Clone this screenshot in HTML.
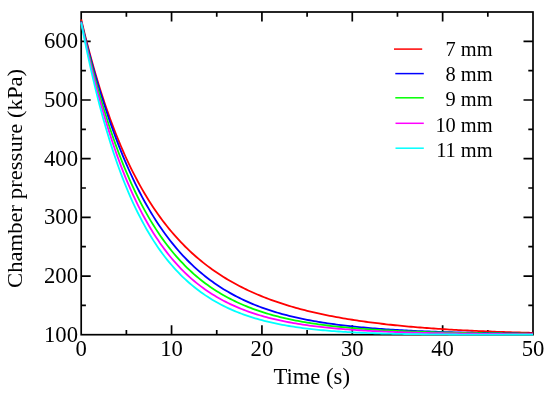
<!DOCTYPE html>
<html><head><meta charset="utf-8"><title>Chamber pressure</title>
<style>html,body{margin:0;padding:0;background:#fff}svg{display:block}text{font-family:"Liberation Serif","Times New Roman",serif;fill:#000}</style></head><body>
<svg width="550" height="397" viewBox="0 0 550 397">
<rect x="0" y="0" width="550" height="397" fill="#fff"/>
<path d="M126.38 334.7v-4.7M126.38 12.0v4.7M171.56 334.7v-9.5M171.56 12.0v9.5M216.74 334.7v-4.7M216.74 12.0v4.7M261.92 334.7v-9.5M261.92 12.0v9.5M307.10 334.7v-4.7M307.10 12.0v4.7M352.28 334.7v-9.5M352.28 12.0v9.5M397.46 334.7v-4.7M397.46 12.0v4.7M442.64 334.7v-9.5M442.64 12.0v9.5M487.82 334.7v-4.7M487.82 12.0v4.7M81.2 305.36h4.7M533.0 305.36h-4.7M81.2 276.03h9.5M533.0 276.03h-9.5M81.2 246.69h4.7M533.0 246.69h-4.7M81.2 217.35h9.5M533.0 217.35h-9.5M81.2 188.02h4.7M533.0 188.02h-4.7M81.2 158.68h9.5M533.0 158.68h-9.5M81.2 129.35h4.7M533.0 129.35h-4.7M81.2 100.01h9.5M533.0 100.01h-9.5M81.2 70.67h4.7M533.0 70.67h-4.7M81.2 41.34h9.5M533.0 41.34h-9.5" stroke="#000" stroke-width="1.7" fill="none"/>
<rect x="81.2" y="12.0" width="451.80" height="322.70" fill="none" stroke="#000" stroke-width="1.7"/>
<text transform="translate(81.2 356.3) scale(1 1.04)" font-size="22.67" text-anchor="middle">0</text>
<text transform="translate(171.6 356.3) scale(1 1.04)" font-size="22.67" text-anchor="middle">10</text>
<text transform="translate(261.9 356.3) scale(1 1.04)" font-size="22.67" text-anchor="middle">20</text>
<text transform="translate(352.3 356.3) scale(1 1.04)" font-size="22.67" text-anchor="middle">30</text>
<text transform="translate(442.6 356.3) scale(1 1.04)" font-size="22.67" text-anchor="middle">40</text>
<text transform="translate(533.0 356.3) scale(1 1.04)" font-size="22.67" text-anchor="middle">50</text>
<text transform="translate(78 341.7) scale(1 1.045)" font-size="22.67" text-anchor="end">100</text>
<text transform="translate(78 283.0) scale(1 1.045)" font-size="22.67" text-anchor="end">200</text>
<text transform="translate(78 224.4) scale(1 1.045)" font-size="22.67" text-anchor="end">300</text>
<text transform="translate(78 165.7) scale(1 1.045)" font-size="22.67" text-anchor="end">400</text>
<text transform="translate(78 107.0) scale(1 1.045)" font-size="22.67" text-anchor="end">500</text>
<text transform="translate(78 48.3) scale(1 1.045)" font-size="22.67" text-anchor="end">600</text>
<text x="311.7" y="383.7" font-size="22.67" text-anchor="middle">Time (s)</text>
<text transform="translate(22.3 178.4) rotate(-90) scale(1 0.97)" font-size="22.67" text-anchor="middle">Chamber pressure (kPa)</text>
<polyline points="81.20,19.50 83.01,27.05 84.81,34.39 86.62,41.53 88.43,48.48 90.24,55.24 92.04,61.82 93.85,68.22 95.66,74.44 97.46,80.51 99.27,86.41 101.08,92.15 102.89,97.74 104.69,103.18 106.50,108.49 108.31,113.65 110.12,118.68 111.92,123.58 113.73,128.35 115.54,132.99 117.34,137.52 119.15,141.94 120.96,146.24 122.77,150.43 124.57,154.51 126.38,158.50 128.64,163.33 130.90,168.02 133.16,172.56 135.42,176.96 137.68,181.22 139.93,185.36 142.19,189.37 144.45,193.25 146.71,197.02 148.97,200.68 151.23,204.22 153.49,207.66 155.75,211.00 158.01,214.24 160.26,217.38 162.52,220.43 164.78,223.40 167.04,226.27 169.30,229.07 171.56,231.78 173.82,234.41 176.08,236.97 178.34,239.46 180.60,241.87 182.86,244.22 185.11,246.50 187.37,248.72 189.63,250.87 191.89,252.97 194.15,255.01 196.41,256.99 198.67,258.91 200.93,260.79 203.19,262.61 205.44,264.39 207.70,266.11 209.96,267.79 212.22,269.43 214.48,271.02 216.74,272.56 219.00,274.07 221.26,275.54 223.52,276.97 225.78,278.36 228.03,279.72 230.29,281.04 232.55,282.32 234.81,283.58 237.07,284.80 239.33,285.99 241.59,287.15 243.85,288.28 246.11,289.38 248.37,290.45 250.62,291.50 252.88,292.52 255.14,293.51 257.40,294.48 259.66,295.43 261.92,296.35 264.18,297.25 266.44,298.13 268.70,298.98 270.96,299.82 273.21,300.63 275.47,301.43 277.73,302.20 279.99,302.96 282.25,303.70 284.51,304.42 286.77,305.13 289.03,305.81 291.29,306.49 293.55,307.14 295.81,307.78 298.06,308.41 300.32,309.02 302.58,309.61 304.84,310.19 307.10,310.76 309.36,311.32 311.62,311.86 313.88,312.39 316.14,312.91 318.39,313.41 320.65,313.91 322.91,314.39 325.17,314.86 327.43,315.32 329.69,315.77 331.95,316.21 334.21,316.64 336.47,317.06 338.73,317.47 340.98,317.88 343.24,318.27 345.50,318.65 347.76,319.03 350.02,319.39 352.28,319.75 354.54,320.10 356.80,320.45 359.06,320.78 361.32,321.11 363.57,321.43 365.83,321.74 368.09,322.05 370.35,322.35 372.61,322.64 374.87,322.93 377.13,323.21 379.39,323.48 381.65,323.75 383.91,324.01 386.16,324.27 388.42,324.52 390.68,324.76 392.94,325.00 395.20,325.24 397.46,325.46 399.72,325.69 401.98,325.91 404.24,326.12 406.50,326.33 408.75,326.54 411.01,326.74 413.27,326.93 415.53,327.12 417.79,327.31 420.05,327.49 422.31,327.67 424.57,327.85 426.83,328.02 429.09,328.19 431.34,328.35 433.60,328.51 435.86,328.67 438.12,328.82 440.38,328.97 442.64,329.11 444.90,329.26 447.16,329.40 449.42,329.53 451.68,329.67 453.93,329.80 456.19,329.92 458.45,330.05 460.71,330.17 462.97,330.29 465.23,330.41 467.49,330.52 469.75,330.63 472.01,330.74 474.27,330.84 476.52,330.95 478.78,331.05 481.04,331.15 483.30,331.24 485.56,331.34 487.82,331.43 490.08,331.52 492.34,331.61 494.60,331.69 496.86,331.78 499.11,331.86 501.37,331.94 503.63,332.01 505.89,332.09 508.15,332.16 510.41,332.24 512.67,332.31 514.93,332.37 517.19,332.44 519.45,332.51 521.71,332.57 523.96,332.63 526.22,332.69 528.48,332.75 530.74,332.81 533.00,332.87" fill="none" stroke="#ff0000" stroke-width="1.8" stroke-linejoin="round"/>
<polyline points="81.20,21.31 83.01,28.79 84.81,36.09 86.62,43.23 88.43,50.20 90.24,57.01 92.04,63.66 93.85,70.16 95.66,76.50 97.46,82.70 99.27,88.75 101.08,94.65 102.89,100.42 104.69,106.06 106.50,111.56 108.31,116.93 110.12,122.17 111.92,127.29 113.73,132.29 115.54,137.17 117.34,141.94 119.15,146.59 120.96,151.13 122.77,155.57 124.57,159.90 126.38,164.12 128.64,169.26 130.90,174.25 133.16,179.09 135.42,183.79 137.68,188.34 139.93,192.76 142.19,197.05 144.45,201.21 146.71,205.24 148.97,209.16 151.23,212.95 153.49,216.64 155.75,220.21 158.01,223.67 160.26,227.03 162.52,230.29 164.78,233.45 167.04,236.52 169.30,239.49 171.56,242.37 173.82,245.17 176.08,247.88 178.34,250.51 180.60,253.06 182.86,255.53 185.11,257.93 187.37,260.25 189.63,262.51 191.89,264.69 194.15,266.81 196.41,268.86 198.67,270.86 200.93,272.79 203.19,274.66 205.44,276.48 207.70,278.24 209.96,279.94 212.22,281.60 214.48,283.20 216.74,284.76 219.00,286.26 221.26,287.72 223.52,289.14 225.78,290.51 228.03,291.85 230.29,293.14 232.55,294.39 234.81,295.60 237.07,296.78 239.33,297.92 241.59,299.02 243.85,300.09 246.11,301.13 248.37,302.14 250.62,303.11 252.88,304.06 255.14,304.98 257.40,305.86 259.66,306.73 261.92,307.56 264.18,308.37 266.44,309.16 268.70,309.92 270.96,310.66 273.21,311.37 275.47,312.06 277.73,312.74 279.99,313.39 282.25,314.02 284.51,314.63 286.77,315.22 289.03,315.80 291.29,316.36 293.55,316.90 295.81,317.42 298.06,317.93 300.32,318.42 302.58,318.90 304.84,319.37 307.10,319.81 309.36,320.25 311.62,320.67 313.88,321.08 316.14,321.48 318.39,321.86 320.65,322.24 322.91,322.60 325.17,322.95 327.43,323.29 329.69,323.62 331.95,323.94 334.21,324.25 336.47,324.55 338.73,324.84 340.98,325.12 343.24,325.40 345.50,325.66 347.76,325.92 350.02,326.17 352.28,326.42 354.54,326.65 356.80,326.88 359.06,327.10 361.32,327.32 363.57,327.52 365.83,327.73 368.09,327.92 370.35,328.11 372.61,328.30 374.87,328.48 377.13,328.65 379.39,328.82 381.65,328.98 383.91,329.14 386.16,329.30 388.42,329.44 390.68,329.59 392.94,329.73 395.20,329.87 397.46,330.00 399.72,330.13 401.98,330.25 404.24,330.37 406.50,330.49 408.75,330.61 411.01,330.72 413.27,330.82 415.53,330.93 417.79,331.03 420.05,331.13 422.31,331.22 424.57,331.32 426.83,331.41 429.09,331.49 431.34,331.58 433.60,331.66 435.86,331.74 438.12,331.82 440.38,331.89 442.64,331.97 444.90,332.04 447.16,332.11 449.42,332.17 451.68,332.24 453.93,332.30 456.19,332.36 458.45,332.42 460.71,332.48 462.97,332.54 465.23,332.59 467.49,332.65 469.75,332.70 472.01,332.75 474.27,332.80 476.52,332.84 478.78,332.89 481.04,332.94 483.30,332.98 485.56,333.02 487.82,333.06 490.08,333.10 492.34,333.14 494.60,333.18 496.86,333.22 499.11,333.25 501.37,333.29 503.63,333.32 505.89,333.35 508.15,333.39 510.41,333.42 512.67,333.45 514.93,333.48 517.19,333.51 519.45,333.53 521.71,333.56 523.96,333.59 526.22,333.61 528.48,333.64 530.74,333.66 533.00,333.69" fill="none" stroke="#0000ff" stroke-width="1.8" stroke-linejoin="round"/>
<polyline points="81.20,21.60 83.01,29.65 84.81,37.50 86.62,45.15 88.43,52.61 90.24,59.88 92.04,66.97 93.85,73.88 95.66,80.61 97.46,87.18 99.27,93.58 101.08,99.82 102.89,105.90 104.69,111.82 106.50,117.60 108.31,123.22 110.12,128.71 111.92,134.05 113.73,139.26 115.54,144.33 117.34,149.28 119.15,154.10 120.96,158.79 122.77,163.37 124.57,167.82 126.38,172.17 128.64,177.44 130.90,182.54 133.16,187.48 135.42,192.25 137.68,196.88 139.93,201.35 142.19,205.68 144.45,209.87 146.71,213.93 148.97,217.85 151.23,221.65 153.49,225.32 155.75,228.88 158.01,232.32 160.26,235.64 162.52,238.86 164.78,241.97 167.04,244.99 169.30,247.90 171.56,250.72 173.82,253.45 176.08,256.08 178.34,258.63 180.60,261.10 182.86,263.49 185.11,265.80 187.37,268.03 189.63,270.19 191.89,272.28 194.15,274.30 196.41,276.25 198.67,278.14 200.93,279.97 203.19,281.74 205.44,283.45 207.70,285.10 209.96,286.70 212.22,288.25 214.48,289.74 216.74,291.19 219.00,292.59 221.26,293.94 223.52,295.25 225.78,296.51 228.03,297.73 230.29,298.92 232.55,300.06 234.81,301.17 237.07,302.24 239.33,303.27 241.59,304.27 243.85,305.24 246.11,306.18 248.37,307.08 250.62,307.96 252.88,308.81 255.14,309.62 257.40,310.42 259.66,311.18 261.92,311.92 264.18,312.64 266.44,313.33 268.70,314.00 270.96,314.65 273.21,315.28 275.47,315.89 277.73,316.47 279.99,317.04 282.25,317.59 284.51,318.12 286.77,318.63 289.03,319.13 291.29,319.61 293.55,320.08 295.81,320.53 298.06,320.96 300.32,321.38 302.58,321.79 304.84,322.18 307.10,322.57 309.36,322.94 311.62,323.29 313.88,323.64 316.14,323.97 318.39,324.30 320.65,324.61 322.91,324.91 325.17,325.21 327.43,325.49 329.69,325.76 331.95,326.03 334.21,326.29 336.47,326.54 338.73,326.78 340.98,327.01 343.24,327.24 345.50,327.46 347.76,327.67 350.02,327.87 352.28,328.07 354.54,328.26 356.80,328.45 359.06,328.63 361.32,328.81 363.57,328.97 365.83,329.14 368.09,329.30 370.35,329.45 372.61,329.60 374.87,329.74 377.13,329.88 379.39,330.02 381.65,330.15 383.91,330.28 386.16,330.40 388.42,330.52 390.68,330.63 392.94,330.75 395.20,330.85 397.46,330.96 399.72,331.06 401.98,331.16 404.24,331.26 406.50,331.35 408.75,331.44 411.01,331.53 413.27,331.61 415.53,331.69 417.79,331.77 420.05,331.85 422.31,331.92 424.57,332.00 426.83,332.07 429.09,332.14 431.34,332.20 433.60,332.27 435.86,332.33 438.12,332.39 440.38,332.45 442.64,332.50 444.90,332.56 447.16,332.61 449.42,332.66 451.68,332.71 453.93,332.76 456.19,332.81 458.45,332.86 460.71,332.90 462.97,332.95 465.23,332.99 467.49,333.03 469.75,333.07 472.01,333.11 474.27,333.14 476.52,333.18 478.78,333.22 481.04,333.25 483.30,333.28 485.56,333.32 487.82,333.35 490.08,333.38 492.34,333.41 494.60,333.44 496.86,333.46 499.11,333.49 501.37,333.52 503.63,333.54 505.89,333.57 508.15,333.59 510.41,333.62 512.67,333.64 514.93,333.66 517.19,333.68 519.45,333.71 521.71,333.73 523.96,333.75 526.22,333.77 528.48,333.78 530.74,333.80 533.00,333.82" fill="none" stroke="#00ff00" stroke-width="1.8" stroke-linejoin="round"/>
<polyline points="81.20,22.00 83.01,30.59 84.81,38.94 86.62,47.07 88.43,54.99 90.24,62.69 92.04,70.18 93.85,77.47 95.66,84.57 97.46,91.47 99.27,98.19 101.08,104.72 102.89,111.08 104.69,117.27 106.50,123.28 108.31,129.14 110.12,134.83 111.92,140.37 113.73,145.76 115.54,151.00 117.34,156.10 119.15,161.06 120.96,165.88 122.77,170.57 124.57,175.14 126.38,179.57 128.64,184.95 130.90,190.14 133.16,195.15 135.42,199.99 137.68,204.67 139.93,209.18 142.19,213.54 144.45,217.74 146.71,221.81 148.97,225.73 151.23,229.52 153.49,233.17 155.75,236.70 158.01,240.11 160.26,243.39 162.52,246.57 164.78,249.63 167.04,252.59 169.30,255.44 171.56,258.20 173.82,260.86 176.08,263.43 178.34,265.90 180.60,268.29 182.86,270.60 185.11,272.83 187.37,274.98 189.63,277.05 191.89,279.05 194.15,280.98 196.41,282.84 198.67,284.64 200.93,286.38 203.19,288.05 205.44,289.67 207.70,291.23 209.96,292.73 212.22,294.18 214.48,295.58 216.74,296.94 219.00,298.24 221.26,299.50 223.52,300.71 225.78,301.88 228.03,303.02 230.29,304.11 232.55,305.16 234.81,306.17 237.07,307.15 239.33,308.10 241.59,309.01 243.85,309.89 246.11,310.74 248.37,311.56 250.62,312.35 252.88,313.11 255.14,313.85 257.40,314.56 259.66,315.25 261.92,315.91 264.18,316.55 266.44,317.16 268.70,317.76 270.96,318.33 273.21,318.88 275.47,319.42 277.73,319.93 279.99,320.43 282.25,320.91 284.51,321.38 286.77,321.82 289.03,322.25 291.29,322.67 293.55,323.07 295.81,323.46 298.06,323.84 300.32,324.20 302.58,324.55 304.84,324.88 307.10,325.21 309.36,325.52 311.62,325.83 313.88,326.12 316.14,326.40 318.39,326.67 320.65,326.94 322.91,327.19 325.17,327.44 327.43,327.67 329.69,327.90 331.95,328.12 334.21,328.34 336.47,328.54 338.73,328.74 340.98,328.93 343.24,329.12 345.50,329.30 347.76,329.47 350.02,329.64 352.28,329.80 354.54,329.96 356.80,330.11 359.06,330.25 361.32,330.39 363.57,330.53 365.83,330.66 368.09,330.79 370.35,330.91 372.61,331.03 374.87,331.14 377.13,331.25 379.39,331.36 381.65,331.46 383.91,331.56 386.16,331.66 388.42,331.75 390.68,331.84 392.94,331.93 395.20,332.01 397.46,332.10 399.72,332.17 401.98,332.25 404.24,332.32 406.50,332.40 408.75,332.46 411.01,332.53 413.27,332.60 415.53,332.66 417.79,332.72 420.05,332.78 422.31,332.83 424.57,332.89 426.83,332.94 429.09,332.99 431.34,333.04 433.60,333.09 435.86,333.13 438.12,333.18 440.38,333.22 442.64,333.27 444.90,333.31 447.16,333.35 449.42,333.38 451.68,333.42 453.93,333.46 456.19,333.49 458.45,333.52 460.71,333.56 462.97,333.59 465.23,333.62 467.49,333.65 469.75,333.68 472.01,333.70 474.27,333.73 476.52,333.76 478.78,333.78 481.04,333.81 483.30,333.83 485.56,333.85 487.82,333.87 490.08,333.90 492.34,333.92 494.60,333.94 496.86,333.96 499.11,333.98 501.37,333.99 503.63,334.01 505.89,334.03 508.15,334.05 510.41,334.06 512.67,334.08 514.93,334.09 517.19,334.11 519.45,334.12 521.71,334.14 523.96,334.15 526.22,334.16 528.48,334.18 530.74,334.19 533.00,334.20" fill="none" stroke="#ff00ff" stroke-width="1.8" stroke-linejoin="round"/>
<polyline points="81.20,22.51 83.01,31.85 84.81,40.90 86.62,49.66 88.43,58.16 90.24,66.39 92.04,74.37 93.85,82.11 95.66,89.61 97.46,96.88 99.27,103.93 101.08,110.76 102.89,117.39 104.69,123.82 106.50,130.05 108.31,136.09 110.12,141.95 111.92,147.64 113.73,153.16 115.54,158.51 117.34,163.70 119.15,168.73 120.96,173.62 122.77,178.36 124.57,182.96 126.38,187.43 128.64,192.82 130.90,198.02 133.16,203.02 135.42,207.85 137.68,212.49 139.93,216.97 142.19,221.29 144.45,225.44 146.71,229.45 148.97,233.31 151.23,237.03 153.49,240.62 155.75,244.08 158.01,247.41 160.26,250.62 162.52,253.72 164.78,256.70 167.04,259.58 169.30,262.36 171.56,265.03 173.82,267.61 176.08,270.10 178.34,272.49 180.60,274.81 182.86,277.04 185.11,279.18 187.37,281.26 189.63,283.26 191.89,285.18 194.15,287.04 196.41,288.83 198.67,290.56 200.93,292.22 203.19,293.83 205.44,295.38 207.70,296.87 209.96,298.31 212.22,299.70 214.48,301.03 216.74,302.32 219.00,303.57 221.26,304.77 223.52,305.92 225.78,307.03 228.03,308.11 230.29,309.14 232.55,310.14 234.81,311.10 237.07,312.02 239.33,312.92 241.59,313.78 243.85,314.60 246.11,315.40 248.37,316.17 250.62,316.91 252.88,317.62 255.14,318.31 257.40,318.97 259.66,319.61 261.92,320.22 264.18,320.81 266.44,321.38 268.70,321.93 270.96,322.45 273.21,322.96 275.47,323.45 277.73,323.92 279.99,324.37 282.25,324.80 284.51,325.22 286.77,325.62 289.03,326.00 291.29,326.37 293.55,326.73 295.81,327.07 298.06,327.40 300.32,327.72 302.58,328.02 304.84,328.32 307.10,328.60 309.36,328.87 311.62,329.12 313.88,329.37 316.14,329.61 318.39,329.84 320.65,330.06 322.91,330.27 325.17,330.47 327.43,330.66 329.69,330.85 331.95,331.03 334.21,331.20 336.47,331.36 338.73,331.52 340.98,331.67 343.24,331.81 345.50,331.95 347.76,332.08 350.02,332.20 352.28,332.32 354.54,332.44 356.80,332.55 359.06,332.65 361.32,332.75 363.57,332.85 365.83,332.94 368.09,333.03 370.35,333.11 372.61,333.19 374.87,333.27 377.13,333.34 379.39,333.41 381.65,333.48 383.91,333.54 386.16,333.60 388.42,333.66 390.68,333.71 392.94,333.77 395.20,333.82 397.46,333.86 399.72,333.91 401.98,333.95 404.24,333.99 406.50,334.03 408.75,334.07 411.01,334.10 413.27,334.13 415.53,334.17 417.79,334.20 420.05,334.22 422.31,334.25 424.57,334.28 426.83,334.30 429.09,334.32 431.34,334.35 433.60,334.37 435.86,334.39 438.12,334.40 440.38,334.42 442.64,334.44 444.90,334.45 447.16,334.47 449.42,334.48 451.68,334.50 453.93,334.51 456.19,334.52 458.45,334.53 460.71,334.54 462.97,334.55 465.23,334.56 467.49,334.57 469.75,334.58 472.01,334.59 474.27,334.59 476.52,334.60 478.78,334.61 481.04,334.61 483.30,334.62 485.56,334.62 487.82,334.63 490.08,334.63 492.34,334.64 494.60,334.64 496.86,334.65 499.11,334.65 501.37,334.65 503.63,334.66 505.89,334.66 508.15,334.66 510.41,334.67 512.67,334.67 514.93,334.67 517.19,334.67 519.45,334.67 521.71,334.68 523.96,334.68 526.22,334.68 528.48,334.68 530.74,334.68 533.00,334.68" fill="none" stroke="#00ffff" stroke-width="1.8" stroke-linejoin="round"/>
<line x1="394.0" y1="49.1" x2="422.2" y2="49.1" stroke="#ff0000" stroke-width="1.5"/>
<text x="492.6" y="55.7" font-size="20.4" text-anchor="end">7 mm</text>
<line x1="395.3" y1="73.6" x2="423.8" y2="73.6" stroke="#0000ff" stroke-width="1.5"/>
<text x="492.6" y="80.5" font-size="20.4" text-anchor="end">8 mm</text>
<line x1="395.3" y1="97.8" x2="423.8" y2="97.8" stroke="#00ff00" stroke-width="1.5"/>
<text x="492.6" y="105.9" font-size="20.4" text-anchor="end">9 mm</text>
<line x1="395.5" y1="123.3" x2="423.8" y2="123.3" stroke="#ff00ff" stroke-width="1.5"/>
<text x="492.6" y="131.6" font-size="20.4" text-anchor="end">10 mm</text>
<line x1="395.5" y1="148.2" x2="423.8" y2="148.2" stroke="#00ffff" stroke-width="1.5"/>
<text x="492.6" y="156.8" font-size="20.4" text-anchor="end">11 mm</text>
</svg></body></html>
